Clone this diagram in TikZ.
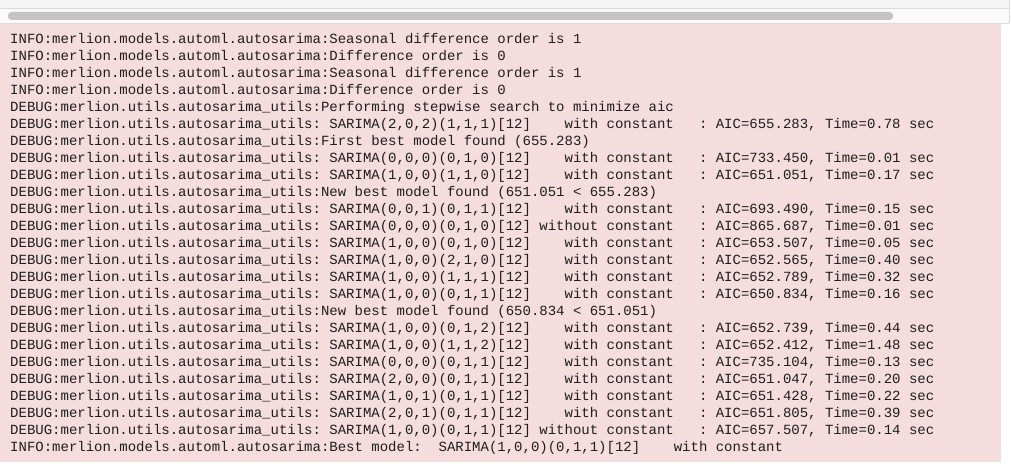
\documentclass[tikz,border=0pt]{standalone}
\usepackage{fontspec}
\setmonofont{Liberation Mono}
\definecolor{pinkbg}{RGB}{245,221,222}
\definecolor{topbg}{RGB}{245,245,245}
\definecolor{barbg}{RGB}{250,250,250}
\definecolor{bar}{RGB}{196,196,196}
\definecolor{edge}{RGB}{218,218,218}
\definecolor{txt}{RGB}{30,30,30}
\begin{document}
\begin{tikzpicture}[x=1pt,y=-1pt,
  logline/.style={anchor=base west,inner sep=0pt,font=\ttfamily\fontsize{14}{17}\selectfont,text=txt}]
\useasboundingbox (0,0) rectangle (1011,468);
\fill[white] (0,0) rectangle (1011,468);
\fill[topbg] (0,0) rectangle (1009,8);
\fill[barbg] (0,8.5) rectangle (1009,23.5);
\draw[edge] (0,8.5) -- (1009,8.5);
\draw[edge] (0,23.5) -- (1009,23.5);
\draw[edge] (1009.5,0) -- (1009.5,23.5);
\fill[bar,rounded corners=3.5pt] (8,12) rectangle (893,20);
\fill[pinkbg] (0,24) rectangle (1001,462);
\foreach \t [count=\i from 0] in {
INFO:merlion.models.automl.autosarima:Seasonal~difference~order~is~1,
INFO:merlion.models.automl.autosarima:Difference~order~is~0,
INFO:merlion.models.automl.autosarima:Seasonal~difference~order~is~1,
INFO:merlion.models.automl.autosarima:Difference~order~is~0,
DEBUG:merlion.utils.autosarima\_utils:Performing~stepwise~search~to~minimize~aic,
DEBUG:merlion.utils.autosarima\_utils:~SARIMA{(2{,}0{,}2)(1{,}1{,}1)}[12]~~~~with~constant~~~:~AIC=655.283{,}~Time=0.78~sec,
DEBUG:merlion.utils.autosarima\_utils:First~best~model~found~(655.283),
DEBUG:merlion.utils.autosarima\_utils:~SARIMA{(0{,}0{,}0)(0{,}1{,}0)}[12]~~~~with~constant~~~:~AIC=733.450{,}~Time=0.01~sec,
DEBUG:merlion.utils.autosarima\_utils:~SARIMA{(1{,}0{,}0)(1{,}1{,}0)}[12]~~~~with~constant~~~:~AIC=651.051{,}~Time=0.17~sec,
DEBUG:merlion.utils.autosarima\_utils:New~best~model~found~(651.051~<~655.283),
DEBUG:merlion.utils.autosarima\_utils:~SARIMA{(0{,}0{,}1)(0{,}1{,}1)}[12]~~~~with~constant~~~:~AIC=693.490{,}~Time=0.15~sec,
DEBUG:merlion.utils.autosarima\_utils:~SARIMA{(0{,}0{,}0)(0{,}1{,}0)}[12]~without~constant~~~:~AIC=865.687{,}~Time=0.01~sec,
DEBUG:merlion.utils.autosarima\_utils:~SARIMA{(1{,}0{,}0)(0{,}1{,}0)}[12]~~~~with~constant~~~:~AIC=653.507{,}~Time=0.05~sec,
DEBUG:merlion.utils.autosarima\_utils:~SARIMA{(1{,}0{,}0)(2{,}1{,}0)}[12]~~~~with~constant~~~:~AIC=652.565{,}~Time=0.40~sec,
DEBUG:merlion.utils.autosarima\_utils:~SARIMA{(1{,}0{,}0)(1{,}1{,}1)}[12]~~~~with~constant~~~:~AIC=652.789{,}~Time=0.32~sec,
DEBUG:merlion.utils.autosarima\_utils:~SARIMA{(1{,}0{,}0)(0{,}1{,}1)}[12]~~~~with~constant~~~:~AIC=650.834{,}~Time=0.16~sec,
DEBUG:merlion.utils.autosarima\_utils:New~best~model~found~(650.834~<~651.051),
DEBUG:merlion.utils.autosarima\_utils:~SARIMA{(1{,}0{,}0)(0{,}1{,}2)}[12]~~~~with~constant~~~:~AIC=652.739{,}~Time=0.44~sec,
DEBUG:merlion.utils.autosarima\_utils:~SARIMA{(1{,}0{,}0)(1{,}1{,}2)}[12]~~~~with~constant~~~:~AIC=652.412{,}~Time=1.48~sec,
DEBUG:merlion.utils.autosarima\_utils:~SARIMA{(0{,}0{,}0)(0{,}1{,}1)}[12]~~~~with~constant~~~:~AIC=735.104{,}~Time=0.13~sec,
DEBUG:merlion.utils.autosarima\_utils:~SARIMA{(2{,}0{,}0)(0{,}1{,}1)}[12]~~~~with~constant~~~:~AIC=651.047{,}~Time=0.20~sec,
DEBUG:merlion.utils.autosarima\_utils:~SARIMA{(1{,}0{,}1)(0{,}1{,}1)}[12]~~~~with~constant~~~:~AIC=651.428{,}~Time=0.22~sec,
DEBUG:merlion.utils.autosarima\_utils:~SARIMA{(2{,}0{,}1)(0{,}1{,}1)}[12]~~~~with~constant~~~:~AIC=651.805{,}~Time=0.39~sec,
DEBUG:merlion.utils.autosarima\_utils:~SARIMA{(1{,}0{,}0)(0{,}1{,}1)}[12]~without~constant~~~:~AIC=657.507{,}~Time=0.14~sec,
INFO:merlion.models.automl.autosarima:Best~model:~~SARIMA{(1{,}0{,}0)(0{,}1{,}1)}[12]~~~~with~constant}
  \node[logline] (l\i) at (10,{44+16.96*\i}) {\t};
\end{tikzpicture}
\end{document}
